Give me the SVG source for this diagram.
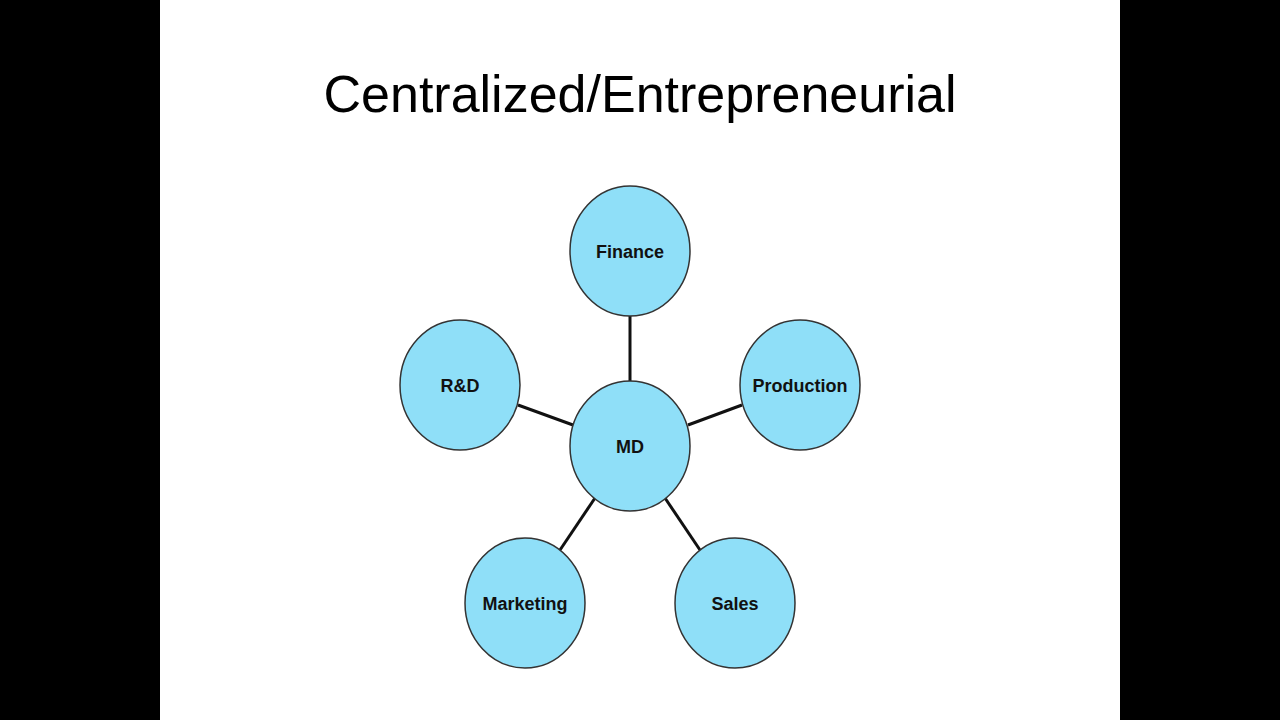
<svg xmlns="http://www.w3.org/2000/svg" width="1280" height="720" viewBox="0 0 1280 720">
<style>
.n{fill:#8fdff8;stroke:#333;stroke-width:1.5}
.t{font-family:"Liberation Sans",Arial,sans-serif;font-weight:bold;font-size:18px;fill:#111;text-anchor:middle}
.c line{stroke:#111;stroke-width:3}
</style>
<rect width="1280" height="720" fill="#000"/>
<rect x="160" y="0" width="960" height="720" fill="#fff"/>
<text x="640" y="112" font-family="Liberation Sans,Arial,sans-serif" font-size="52" text-anchor="middle" fill="#000">Centralized/Entrepreneurial</text>
<g class="c" id="connectors">
<line x1="630" y1="316" x2="630" y2="381"/>
<line x1="518" y1="405" x2="573" y2="425"/>
<line x1="742" y1="405" x2="688" y2="425"/>
<line x1="560" y1="550" x2="595" y2="498"/>
<line x1="700" y1="550" x2="665" y2="498"/>
</g>
<g id="finance"><ellipse class="n" cx="630" cy="251" rx="60" ry="65"/><text class="t" x="630" y="258">Finance</text></g>
<g id="rd"><ellipse class="n" cx="460" cy="385" rx="60" ry="65"/><text class="t" x="460" y="392">R&amp;D</text></g>
<g id="production"><ellipse class="n" cx="800" cy="385" rx="60" ry="65"/><text class="t" x="800" y="392">Production</text></g>
<g id="md"><ellipse class="n" cx="630" cy="446" rx="60" ry="65"/><text class="t" x="630" y="453">MD</text></g>
<g id="marketing"><ellipse class="n" cx="525" cy="603" rx="60" ry="65"/><text class="t" x="525" y="610">Marketing</text></g>
<g id="sales"><ellipse class="n" cx="735" cy="603" rx="60" ry="65"/><text class="t" x="735" y="610">Sales</text></g>
</svg>
